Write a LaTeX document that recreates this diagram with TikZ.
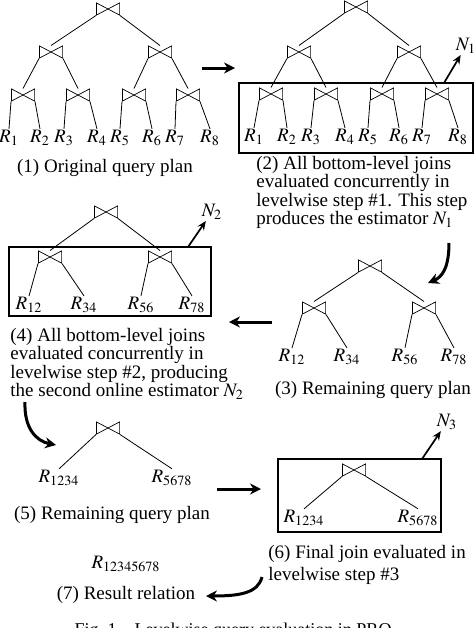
\documentclass[tikz,border=0pt]{standalone}
\usepackage{mathptmx}
\usepackage{fontspec}
\setmainfont{Liberation Serif}
\usepackage{tikz}
\usetikzlibrary{arrows.meta}
\tikzset{
  joinop/.style={minimum width=12pt, minimum height=6.5pt, inner sep=0pt, outer sep=0pt,
    path picture={\draw[line width=0.35pt]
      ([shift={(0.2pt,0.2pt)}]path picture bounding box.south west) --
      ([shift={(-0.2pt,-0.2pt)}]path picture bounding box.north east) --
      ([shift={(-0.2pt,0.2pt)}]path picture bounding box.south east) --
      ([shift={(0.2pt,-0.2pt)}]path picture bounding box.north west) -- cycle;}},
  rel/.style={inner sep=0.5pt},
  edge/.style={line width=0.4pt},
  stepbox/.style={draw, line width=1pt},
  flow/.style={line width=1.5pt, -{Stealth[length=5.5pt,width=5.5pt]}},
  est/.style={line width=0.85pt, -{Stealth[length=4.5pt,width=3.8pt]}},
  captext/.style={inner sep=0pt, align=left},
  figcap/.style={inner sep=0pt, font=\fontsize{9}{10}\selectfont}
}

\begin{document}
\begin{tikzpicture}[x=0.5pt, y=-0.5pt, font=\fontsize{9.5}{9.2}\selectfont]
  \useasboundingbox (0,0) rectangle (474,628);
  \clip (0,0) rectangle (474,628);

  % (1) original plan
  \node[joinop] (p1j) at (108,9) {};
  \node[joinop] (p1ja) at (51,52) {};
  \node[joinop] (p1jb) at (160,52) {};
  \node[joinop] (p1jaa) at (23,95) {};
  \node[joinop] (p1jab) at (78,95) {};
  \node[joinop] (p1jba) at (134,95) {};
  \node[joinop] (p1jbb) at (188,95) {};
  \node[rel] (p1r1) at (9,138) {$R_1$};
  \node[rel] (p1r2) at (40,138) {$R_2$};
  \node[rel] (p1r3) at (64,138) {$R_3$};
  \node[rel] (p1r4) at (97,138) {$R_4$};
  \node[rel] (p1r5) at (120,138) {$R_5$};
  \node[rel] (p1r6) at (152,138) {$R_6$};
  \node[rel] (p1r7) at (175,138) {$R_7$};
  \node[rel] (p1r8) at (210,138) {$R_8$};
  \draw[edge] (p1j.south west) -- (p1ja.north) (p1j.south east) -- (p1jb.north)
    (p1ja.south west) -- (p1jaa.north) (p1ja.south east) -- (p1jab.north)
    (p1jb.south west) -- (p1jba.north) (p1jb.south east) -- (p1jbb.north)
    (p1jaa.south west) -- (p1r1.north) (p1jaa.south east) -- (p1r2.north)
    (p1jab.south west) -- (p1r3.north) (p1jab.south east) -- (p1r4.north)
    (p1jba.south west) -- (p1r5.north) (p1jba.south east) -- (p1r6.north)
    (p1jbb.south west) -- (p1r7.north) (p1jbb.south east) -- (p1r8.north);
  \node[captext] (c1) at (105,168) {(1) Original query plan};

  % (2) step #1
  \node[joinop] (p2j) at (356,7) {};
  \node[joinop] (p2ja) at (299,52) {};
  \node[joinop] (p2jb) at (409,52) {};
  \node[joinop] (p2jaa) at (271,94) {};
  \node[joinop] (p2jab) at (326,94) {};
  \node[joinop] (p2jba) at (382,94) {};
  \node[joinop] (p2jbb) at (437,94) {};
  \node[rel] (p2r1) at (254,137) {$R_1$};
  \node[rel] (p2r2) at (287,137) {$R_2$};
  \node[rel] (p2r3) at (311,137) {$R_3$};
  \node[rel] (p2r4) at (345,137) {$R_4$};
  \node[rel] (p2r5) at (368,137) {$R_5$};
  \node[rel] (p2r6) at (399,137) {$R_6$};
  \node[rel] (p2r7) at (422,137) {$R_7$};
  \node[rel] (p2r8) at (458,137) {$R_8$};
  \draw[edge] (p2j.south west) -- (p2ja.north) (p2j.south east) -- (p2jb.north)
    (p2ja.south west) -- (p2jaa.north) (p2ja.south east) -- (p2jab.north)
    (p2jb.south west) -- (p2jba.north) (p2jb.south east) -- (p2jbb.north)
    (p2jaa.south west) -- (p2r1.north) (p2jaa.south east) -- (p2r2.north)
    (p2jab.south west) -- (p2r3.north) (p2jab.south east) -- (p2r4.north)
    (p2jba.south west) -- (p2r5.north) (p2jba.south east) -- (p2r6.north)
    (p2jbb.south west) -- (p2r7.north) (p2jbb.south east) -- (p2r8.north);
  \draw[stepbox] (239,83) rectangle (472.5,153);
  \coordinate (e1) at (444,83);
  \node[rel] (n1) at (466,46) {$N_1$};
  \draw[est] (e1) -- (n1);
  \node[captext, anchor=north west] (c2) at (256,156) {(2) All bottom-level joins\\evaluated concurrently in\\levelwise step \#1. This step\\produces the estimator $N_1$};

  % (3) remaining plan
  \node[joinop] (p3j) at (370,266) {};
  \node[joinop] (p3ja) at (314,308) {};
  \node[joinop] (p3jb) at (424,308) {};
  \node[rel] (p3r12) at (292,357) {$R_{12}$};
  \node[rel] (p3r34) at (347,357) {$R_{34}$};
  \node[rel] (p3r56) at (405,357) {$R_{56}$};
  \node[rel] (p3r78) at (454,357) {$R_{78}$};
  \draw[edge] (p3j.south west) -- (p3ja.north) (p3j.south east) -- (p3jb.north)
    (p3ja.south west) -- (p3r12.north) (p3ja.south east) -- (p3r34.north)
    (p3jb.south west) -- (p3r56.north) (p3jb.south east) -- (p3r78.north);
  \node[captext] (c3) at (373,390) {(3) Remaining query plan};

  % (4) step #2
  \node[joinop] (p4j) at (106,212) {};
  \node[joinop] (p4ja) at (50,257) {};
  \node[joinop] (p4jb) at (160,257) {};
  \node[rel] (p4r12) at (29,305) {$R_{12}$};
  \node[rel] (p4r34) at (84,305) {$R_{34}$};
  \node[rel] (p4r56) at (141,305) {$R_{56}$};
  \node[rel] (p4r78) at (192,305) {$R_{78}$};
  \draw[edge] (p4j.south west) -- (p4ja.north) (p4j.south east) -- (p4jb.north)
    (p4ja.south west) -- (p4r12.north) (p4ja.south east) -- (p4r34.north)
    (p4jb.south west) -- (p4r56.north) (p4jb.south east) -- (p4r78.north);
  \draw[stepbox] (9,247) rectangle (211,316);
  \coordinate (e2) at (188,247);
  \node[rel] (n2) at (212,212) {$N_2$};
  \draw[est] (e2) -- (n2);
  \node[captext, anchor=north west] (c4) at (10,328) {(4) All bottom-level joins\\evaluated concurrently in\\levelwise step \#2, producing\\the second online estimator $N_2$};

  % (5) remaining plan
  \node[joinop] (p5j) at (108,428) {};
  \node[rel] (p5r1) at (59,478) {$R_{1234}$};
  \node[rel] (p5r2) at (172,478) {$R_{5678}$};
  \draw[edge] (p5j.south west) -- (p5r1.north) (p5j.south east) -- (p5r2.north);
  \node[captext] (c5) at (112,515) {(5) Remaining query plan};

  % (6) step #3
  \node[joinop] (p6j) at (354,470) {};
  \node[rel] (p6r1) at (304,518) {$R_{1234}$};
  \node[rel] (p6r2) at (418,518) {$R_{5678}$};
  \draw[edge] (p6j.south west) -- (p6r1.north) (p6j.south east) -- (p6r2.north);
  \draw[stepbox] (278,459) rectangle (441,532);
  \coordinate (e3) at (422,459);
  \node[rel] (n3) at (447,422) {$N_3$};
  \draw[est] (e3) -- (n3);
  \node[captext, anchor=north west, font=\fontsize{9.5}{10.8}\selectfont] (c6) at (268,545) {(6) Final join evaluated in\\levelwise step \#3};

  % (7) result
  \node[rel] (p7r) at (126,564) {$R_{12345678}$};
  \node[captext] (c7) at (126,595) {(7) Result relation};

  % flow between the steps
  \coordinate (f1s) at (202,68);  \coordinate (f1e) at (235,68);
  \coordinate (f2s) at (449,243); \coordinate (f2e) at (428,283);
  \coordinate (f3s) at (272,322); \coordinate (f3e) at (229,322);
  \coordinate (f4s) at (25,402);  \coordinate (f4e) at (56,445);
  \coordinate (f5s) at (217,489); \coordinate (f5e) at (261,489);
  \coordinate (f6s) at (262,577); \coordinate (f6e) at (206,596);
  \draw[flow] (f1s) -- (f1e);
  \draw[flow] (f2s) .. controls (449,268) and (442,277) .. (f2e);
  \draw[flow] (f3s) -- (f3e);
  \draw[flow] (f4s) .. controls (24,428) and (36,441) .. (f4e);
  \draw[flow] (f5s) -- (f5e);
  \draw[flow] (f6s) .. controls (258,593) and (240,596) .. (f6e);

  \node[figcap, anchor=north] (fig) at (233,623) {Fig.~1\quad Levelwise query evaluation in PRQ};
\end{tikzpicture}
\end{document}
